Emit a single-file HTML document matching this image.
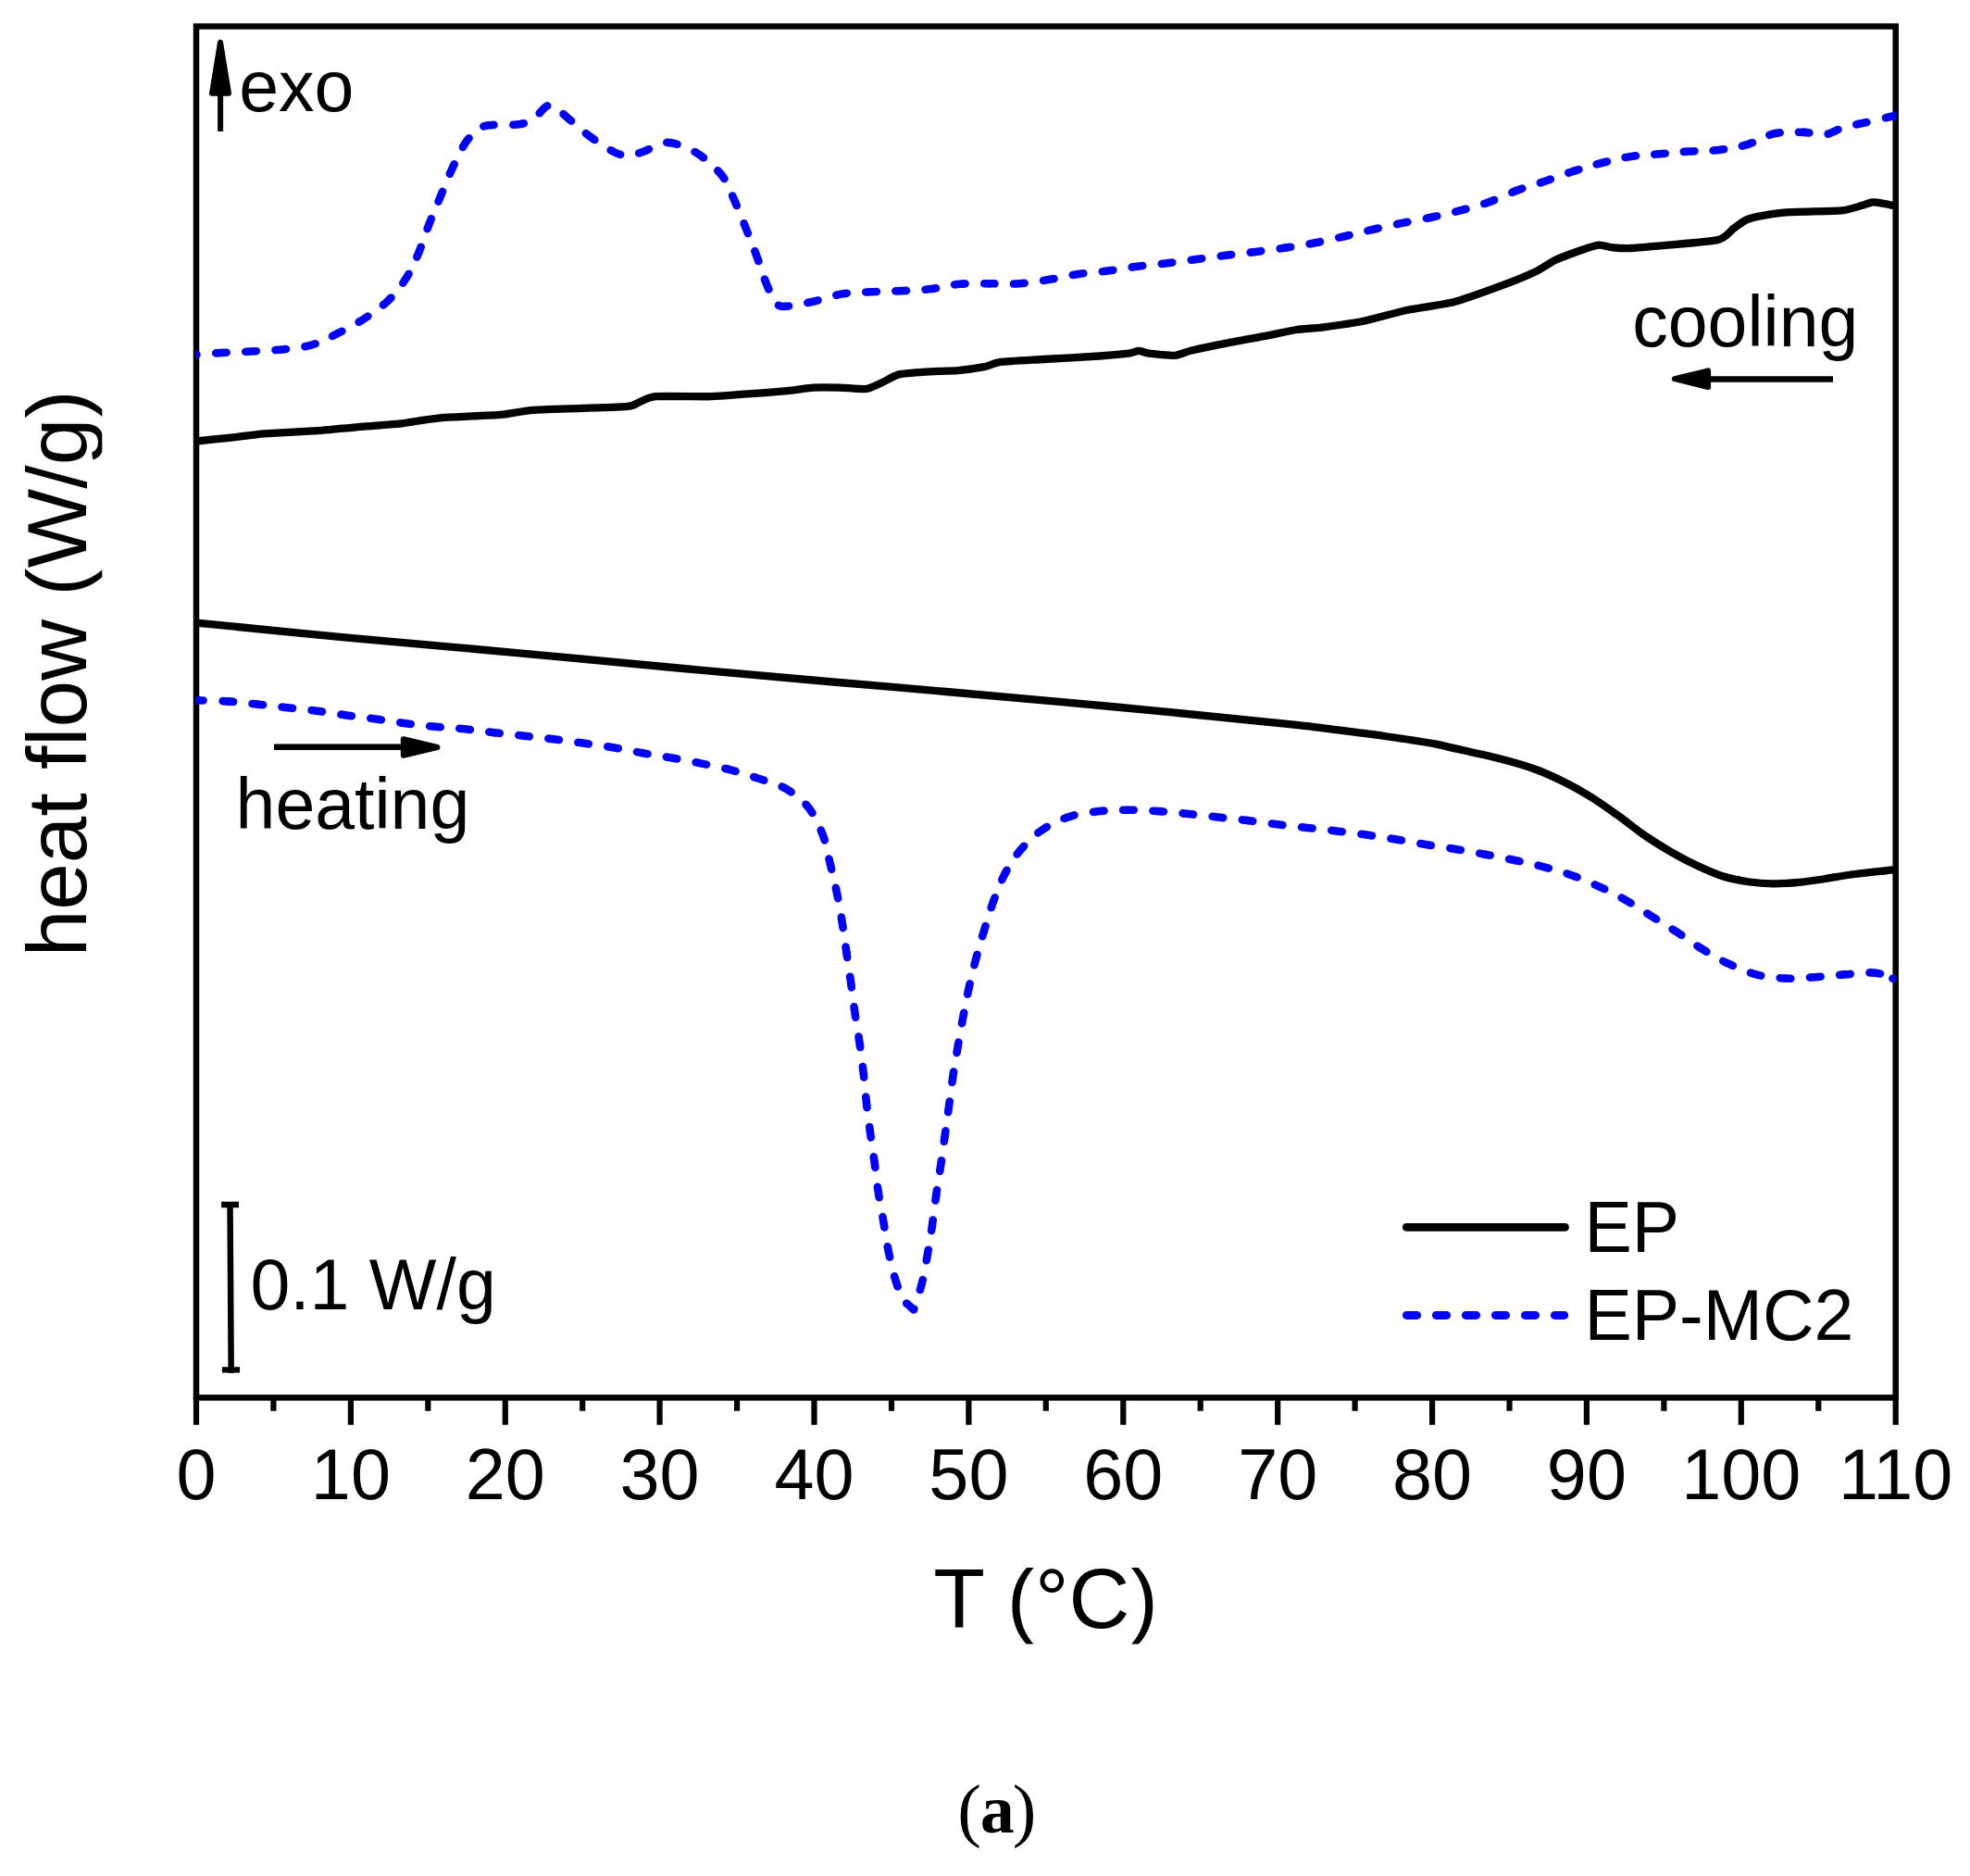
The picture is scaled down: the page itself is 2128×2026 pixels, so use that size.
<!DOCTYPE html>
<html lang="en"><head><meta charset="utf-8"><title>DSC heat flow: EP vs EP-MC2</title>
<style>html,body{margin:0;padding:0;background:#fff}body{width:2128px;height:2026px;overflow:hidden}svg{display:block}text{font-family:'Liberation Sans', Arial, Helvetica, sans-serif;fill:#000}</style>
</head><body>
<svg width="2128" height="2026" viewBox="0 0 2128 2026">
<rect x="0" y="0" width="2128" height="2026" fill="#fff"/>
<defs>
<clipPath id="plot"><rect x="211.0" y="28.5" width="1837.7" height="1480.9"/></clipPath>
<clipPath id="xt"><rect x="900" y="1693" width="460" height="82.5"/></clipPath>
<clipPath id="yt"><rect x="27" y="380" width="83.3" height="700"/></clipPath>
</defs>
<g fill="none" stroke="#000" stroke-width="6.5" stroke-linecap="butt">
<rect x="212.0" y="28.5" width="1835.7" height="1480.9"/>
<path stroke-width="6.2" d="M212.0 1509.4V1538.7M295.4 1509.4V1523.7M378.9 1509.4V1538.7M462.3 1509.4V1523.7M545.8 1509.4V1538.7M629.2 1509.4V1523.7M712.6 1509.4V1538.7M796.1 1509.4V1523.7M879.5 1509.4V1538.7M963.0 1509.4V1523.7M1046.4 1509.4V1538.7M1129.8 1509.4V1523.7M1213.3 1509.4V1538.7M1296.7 1509.4V1523.7M1380.2 1509.4V1538.7M1463.6 1509.4V1523.7M1547.1 1509.4V1538.7M1630.5 1509.4V1523.7M1713.9 1509.4V1538.7M1797.4 1509.4V1523.7M1880.8 1509.4V1538.7M1964.3 1509.4V1523.7M2047.7 1509.4V1538.7"/>
</g>
<g clip-path="url(#plot)" fill="none" stroke-linejoin="round">
<path stroke="#000" stroke-width="8.3" d="M212.0 476.5C215.4 476.1 243.1 473.3 249.8 472.6C256.5 471.9 276.4 469.1 285.3 468.4C294.2 467.7 338.5 465.4 347.5 464.8C356.5 464.2 377.2 461.9 384.8 461.3C392.4 460.7 424.1 458.4 431.0 457.7C437.9 457.0 456.4 453.7 461.2 453.1C466.0 452.5 477.0 451.1 484.3 450.6C491.6 450.1 532.8 448.5 541.2 447.8C549.6 447.1 564.4 443.6 576.7 442.8C589.0 442.0 665.9 440.0 676.2 439.2C686.5 438.4 687.5 435.3 690.4 434.3C693.3 433.3 701.1 428.8 708.2 428.2C715.3 427.6 759.9 428.4 768.6 428.2C777.3 428.0 796.7 426.2 804.1 425.7C811.5 425.2 843.2 422.8 850.0 422.2C856.8 421.6 873.2 418.9 878.4 418.6C883.6 418.3 901.7 418.5 906.9 418.6C912.1 418.7 931.1 420.5 935.3 420.0C939.5 419.5 949.8 414.4 953.0 413.0C956.2 411.6 966.6 405.4 970.8 404.4C975.0 403.4 993.5 402.0 999.3 401.6C1005.1 401.2 1029.0 400.6 1034.8 400.1C1040.6 399.6 1059.0 397.0 1063.2 396.2C1067.4 395.4 1075.2 391.6 1081.0 390.9C1086.8 390.2 1117.5 388.6 1127.2 388.0C1136.9 387.4 1179.2 385.1 1187.6 384.5C1196.0 383.9 1215.7 382.2 1219.6 381.7C1223.5 381.2 1228.3 378.8 1230.2 378.8C1232.1 378.8 1237.3 381.2 1240.9 381.7C1244.5 382.2 1265.1 384.1 1269.3 383.8C1273.5 383.5 1281.6 379.8 1287.1 378.5C1292.6 377.2 1322.6 371.0 1329.7 369.6C1336.8 368.2 1358.8 364.4 1365.3 363.2C1371.8 362.0 1395.1 356.9 1400.8 356.0C1406.5 355.1 1421.3 354.5 1428.0 353.6C1434.7 352.7 1465.8 348.2 1474.2 346.5C1482.6 344.8 1511.7 336.6 1520.4 334.8C1529.1 333.0 1561.1 328.5 1570.2 326.2C1579.3 323.9 1611.9 312.2 1620.0 309.2C1628.1 306.2 1653.5 295.8 1659.0 293.2C1664.5 290.6 1675.8 282.8 1680.3 280.7C1684.8 278.6 1704.4 271.5 1708.7 270.0C1713.0 268.5 1724.3 265.0 1727.2 264.7C1730.1 264.4 1737.5 266.9 1740.7 267.2C1743.9 267.5 1751.7 268.7 1762.0 268.0C1772.3 267.3 1844.4 261.3 1854.4 259.4C1864.4 257.5 1869.3 249.0 1872.2 247.0C1875.1 245.0 1883.5 238.7 1886.4 237.4C1889.3 236.1 1900.0 233.5 1904.2 232.8C1908.4 232.1 1924.8 229.7 1932.6 229.2C1940.4 228.7 1982.4 228.0 1989.5 227.4C1996.6 226.8 2007.9 222.9 2010.8 222.1C2013.7 221.3 2019.6 218.9 2021.5 218.6C2023.4 218.3 2029.7 218.9 2032.1 219.3C2034.5 219.7 2046.3 222.2 2047.7 222.5"/>
<path stroke="#000" stroke-width="8.3" d="M212.0 672.6C239.6 675.3 320.5 683.4 377.7 688.8C434.9 694.2 496.2 699.3 555.4 704.8C614.6 710.2 675.6 716.2 733.0 721.5C790.4 726.8 850.9 732.2 900.0 736.5C949.1 740.8 976.8 743.0 1027.7 747.5C1078.6 752.0 1146.2 757.9 1205.4 763.5C1264.6 769.1 1345.9 777.4 1383.0 781.2C1420.1 785.0 1408.7 783.8 1428.0 786.2C1447.3 788.6 1478.7 792.6 1499.0 795.5C1519.3 798.4 1538.2 801.2 1550.0 803.3C1561.8 805.4 1557.8 805.1 1570.0 807.9C1582.2 810.7 1608.6 816.4 1623.4 820.3C1638.2 824.1 1647.7 826.9 1659.0 831.0C1670.3 835.1 1680.9 840.2 1691.0 845.2C1701.1 850.2 1709.9 855.3 1719.4 861.2C1728.9 867.1 1738.3 873.9 1747.8 880.7C1757.3 887.5 1766.8 895.5 1776.3 902.0C1785.8 908.5 1795.2 914.3 1804.7 919.8C1814.2 925.3 1823.5 930.3 1833.0 934.8C1842.5 939.2 1852.0 943.5 1861.5 946.5C1871.0 949.5 1881.1 951.2 1890.0 952.5C1898.9 953.8 1905.9 954.2 1914.8 954.3C1923.7 954.4 1933.8 953.8 1943.3 952.9C1952.8 952.0 1961.6 950.5 1971.7 949.0C1981.8 947.5 1991.0 945.6 2003.7 944.0C2016.4 942.4 2040.4 940.0 2047.7 939.2"/>
<path stroke="#00f" stroke-width="8.6" stroke-linecap="round" stroke-dasharray="11.60 20.70" stroke-dashoffset="11.03" d="M212.0 383.0C216.5 382.7 229.2 381.6 239.0 381.0"/>
<path stroke="#00f" stroke-width="8.6" stroke-linecap="round" stroke-dasharray="11.60 20.52" stroke-dashoffset="5.80" d="M239.0 381.0C248.8 380.4 260.0 380.1 271.0 379.5C282.0 378.9 294.0 378.6 305.0 377.4C316.0 376.2 327.2 375.2 337.0 372.4C346.8 369.6 354.1 365.4 363.5 360.7C372.9 356.0 384.3 350.1 393.7 344.0C403.1 337.9 412.5 331.3 420.0 324.0C427.5 316.7 433.5 308.7 438.8 300.3C444.1 291.9 447.9 283.4 452.0 273.6C456.1 263.8 459.8 251.7 463.7 241.6C467.6 231.5 471.3 223.1 475.4 213.2C479.5 203.3 483.8 192.1 488.5 182.0C493.2 171.9 498.6 160.2 503.8 152.8C509.0 145.5 515.1 140.9 519.8 137.9C524.5 134.9 525.2 135.6 532.0 135.0C538.8 134.4 553.2 135.5 560.7 134.3C568.2 133.1 571.7 131.3 576.7 128.0C581.8 124.7 586.9 116.2 591.0 114.4C595.1 112.6 597.8 115.0 601.6 117.3C605.4 119.6 608.4 123.3 614.0 128.0C619.6 132.7 627.0 139.8 635.0 145.7C643.0 151.6 654.8 159.8 662.0 163.5C669.2 167.2 672.4 167.7 678.0 167.7C683.6 167.7 689.5 165.7 695.7 163.5C701.9 161.3 709.4 155.9 715.3 154.6C721.2 153.3 724.8 153.8 731.3 155.7C737.8 157.6 747.6 162.1 754.4 166.3C761.2 170.6 767.4 176.6 772.1 181.2C776.8 185.8 779.2 187.8 782.8 193.7C786.4 199.6 789.6 207.9 793.5 216.8C797.4 225.7 801.8 236.6 805.9 247.0C810.0 257.4 814.4 268.6 818.3 279.0C822.1 289.4 825.4 300.9 829.0 309.2C832.6 317.5 835.9 325.1 839.7 328.7C843.5 332.2 845.2 331.1 852.0 330.5C858.8 329.9 870.5 327.4 880.2 325.2C889.9 323.0 900.0 319.0 910.4 317.3C920.8 315.6 931.7 315.7 942.4 315.2C953.1 314.7 963.7 314.6 974.4 314.1C985.1 313.6 996.0 313.2 1006.4 312.0C1016.8 310.8 1026.2 307.6 1036.6 306.7C1047.0 305.8 1057.9 306.4 1068.6 306.3"/>
<path stroke="#00f" stroke-width="8.6" stroke-linecap="round" stroke-dasharray="11.60 20.65" stroke-dashoffset="5.80" d="M1068.6 306.3C1079.2 306.2 1089.8 307.0 1100.5 306.3C1111.2 305.6 1121.8 303.8 1132.5 302.1C1143.2 300.4 1153.8 297.6 1164.5 296.0C1175.2 294.4 1185.8 293.9 1196.5 292.5C1207.2 291.1 1217.8 289.2 1228.5 287.8C1239.2 286.4 1249.8 285.6 1260.4 284.3C1271.1 283.0 1281.7 281.4 1292.4 280.0C1303.1 278.6 1313.7 277.2 1324.4 275.8C1335.1 274.4 1345.7 273.3 1356.4 271.9C1367.1 270.5 1377.7 269.2 1388.4 267.6"/>
<path stroke="#00f" stroke-width="8.6" stroke-linecap="round" stroke-dasharray="11.60 20.70" stroke-dashoffset="5.80" d="M1388.4 267.6C1399.1 266.0 1409.8 264.4 1420.4 262.3C1431.1 260.2 1442.0 257.6 1452.3 255.2C1462.6 252.8 1472.1 250.4 1482.5 248.0C1492.9 245.6 1503.8 243.2 1514.5 240.9C1525.2 238.7 1536.6 236.8 1547.0 234.5C1557.4 232.2 1566.9 230.1 1577.0 227.4C1587.1 224.8 1597.1 222.3 1607.5 218.6C1617.9 214.9 1629.1 209.2 1639.4 205.4C1649.8 201.6 1659.5 198.9 1669.6 195.5C1679.7 192.1 1689.7 188.1 1699.8 184.8"/>
<path stroke="#00f" stroke-width="8.6" stroke-linecap="round" stroke-dasharray="11.60 20.17" stroke-dashoffset="5.80" d="M1699.8 184.8C1709.9 181.6 1719.9 178.6 1730.0 176.0C1740.1 173.4 1749.9 170.8 1760.3 169.2C1770.7 167.6 1781.6 167.2 1792.3 166.3C1803.0 165.4 1813.5 164.2 1824.2 163.5C1834.9 162.8 1845.8 163.2 1856.2 162.0C1866.6 160.8 1876.3 159.3 1886.4 156.4C1896.5 153.5 1906.2 146.6 1916.6 144.3C1927.0 142.1 1939.7 142.7 1948.6 142.9"/>
<path stroke="#00f" stroke-width="8.6" stroke-linecap="round" stroke-dasharray="11.60 20.70" stroke-dashoffset="5.80" d="M1948.6 142.9C1957.5 143.1 1962.6 146.7 1970.0 145.7C1977.4 144.7 1986.2 138.9 1993.0 136.8C1999.8 134.7 2001.7 135.3 2010.8 133.3C2019.9 131.3 2041.5 126.2 2047.7 124.8"/>
<path stroke="#00f" stroke-width="8.6" stroke-linecap="round" stroke-dasharray="11.60 20.70" stroke-dashoffset="3.88" d="M212.0 756.3C217.7 756.5 235.2 756.7 246.2 757.4"/>
<path stroke="#00f" stroke-width="8.6" stroke-linecap="round" stroke-dasharray="11.60 20.61" stroke-dashoffset="5.80" d="M246.2 757.4C257.2 758.1 267.5 759.5 278.2 760.6C288.9 761.7 299.5 763.0 310.2 764.2C320.9 765.4 331.5 766.3 342.1 767.7C352.8 769.1 363.4 770.9 374.1 772.4C384.8 773.9 395.4 775.1 406.1 776.6C416.8 778.1 427.5 779.8 438.1 781.2C448.8 782.6 459.4 783.8 470.0 784.8C480.6 785.8 491.3 786.2 502.0 787.3C512.7 788.4 523.3 790.0 534.0 791.2"/>
<path stroke="#00f" stroke-width="8.6" stroke-linecap="round" stroke-dasharray="11.60 20.67" stroke-dashoffset="5.80" d="M534.0 791.2C544.7 792.4 555.3 793.5 566.0 794.7C576.7 795.9 587.3 797.0 598.0 798.3C608.7 799.6 619.3 801.1 630.0 802.6C640.7 804.1 651.3 805.4 662.0 807.2C672.7 809.0 683.3 811.3 694.0 813.2C704.7 815.1 715.3 816.7 726.0 818.6C736.7 820.5 747.3 822.4 758.0 824.6C768.7 826.8 779.7 829.0 790.0 831.7C800.3 834.4 810.2 837.7 820.0 841.0C829.8 844.3 839.6 846.5 848.5 851.6C857.4 856.8 866.5 863.5 873.2 871.9C879.9 880.3 884.9 891.6 888.9 902.0C892.9 912.4 894.5 923.6 897.0 934.0C899.5 944.4 901.9 953.9 904.0 964.3C906.1 974.7 908.0 985.6 909.7 996.2C911.4 1006.9 912.8 1017.5 914.3 1028.2"/>
<path stroke="#00f" stroke-width="8.6" stroke-linecap="round" stroke-dasharray="11.60 21.11" stroke-dashoffset="5.80" d="M914.3 1028.2C915.8 1038.9 917.5 1049.5 919.0 1060.2C920.5 1070.9 921.7 1081.5 923.2 1092.2C924.7 1102.9 926.7 1113.5 928.2 1124.2C929.7 1134.9 931.1 1145.3 932.4 1156.2C933.7 1167.1 934.6 1178.8 935.8 1189.7C937.0 1200.6 938.4 1211.0 939.8 1221.6C941.2 1232.2 942.9 1242.8 944.4 1253.5C945.9 1264.2 946.9 1274.9 948.5 1285.6C950.1 1296.3 952.3 1307.3 954.1 1317.9C955.9 1328.5 957.2 1338.6 959.3 1349.1C961.4 1359.6 964.2 1372.0 966.9 1381.0C969.6 1390.0 973.1 1398.8 975.5 1403.4C977.9 1408.0 979.1 1407.0 981.0 1408.8C982.9 1410.6 986.0 1413.5 987.0 1414.5C988.4 1409.9 993.1 1396.7 995.6 1386.8C998.1 1376.9 1000.0 1365.5 1001.9 1354.9C1003.8 1344.3 1005.5 1333.7 1007.0 1323.0C1008.5 1312.3 1009.7 1301.6 1011.2 1290.9"/>
<path stroke="#00f" stroke-width="8.6" stroke-linecap="round" stroke-dasharray="11.60 20.65" stroke-dashoffset="5.80" d="M1011.2 1290.9C1012.7 1280.2 1014.5 1269.7 1016.1 1259.0C1017.7 1248.3 1019.1 1237.5 1020.6 1226.8C1022.1 1216.1 1023.5 1205.9 1025.0 1195.0C1026.5 1184.1 1027.9 1172.4 1029.5 1161.5C1031.1 1150.6 1033.0 1140.2 1034.8 1129.5C1036.6 1118.8 1038.5 1107.9 1040.5 1097.5C1042.5 1087.1 1044.2 1077.7 1046.5 1067.3C1048.8 1056.9 1051.5 1045.8 1054.3 1035.3C1057.1 1024.8 1060.0 1014.8 1063.2 1004.4C1066.4 994.0 1069.5 983.2 1073.2 973.1C1076.9 963.0 1080.5 953.2 1085.3 944.0C1090.1 934.8 1095.4 926.0 1102.3 918.0"/>
<path stroke="#00f" stroke-width="8.6" stroke-linecap="round" stroke-dasharray="11.60 20.70" stroke-dashoffset="5.80" d="M1102.3 918.0C1109.2 910.0 1117.6 901.7 1126.5 895.7C1135.4 889.7 1145.4 885.1 1155.6 881.8C1165.8 878.5 1176.9 877.3 1187.6 876.1C1198.3 874.9 1208.9 874.7 1219.6 874.7C1230.3 874.7 1240.9 875.4 1251.6 876.1C1262.2 876.8 1272.8 877.9 1283.5 879.0C1294.2 880.1 1304.8 881.3 1315.5 882.5C1326.2 883.7 1336.8 884.8 1347.5 886.1"/>
<path stroke="#00f" stroke-width="8.6" stroke-linecap="round" stroke-dasharray="11.60 20.80" stroke-dashoffset="5.80" d="M1347.5 886.1C1358.2 887.4 1368.8 889.0 1379.5 890.3C1390.2 891.6 1400.8 892.7 1411.5 893.9C1422.2 895.1 1432.8 896.1 1443.5 897.4C1454.2 898.7 1465.2 900.1 1476.0 901.6C1486.8 903.1 1497.3 904.8 1508.0 906.5C1518.7 908.2 1529.3 910.2 1540.0 912.0C1550.7 913.8 1561.3 915.2 1572.0 917.0C1582.7 918.8 1593.3 920.7 1604.0 922.7"/>
<path stroke="#00f" stroke-width="8.6" stroke-linecap="round" stroke-dasharray="11.60 20.71" stroke-dashoffset="5.80" d="M1604.0 922.7C1614.7 924.7 1625.7 926.8 1636.0 929.0C1646.3 931.2 1656.0 933.2 1666.0 935.8C1676.0 938.4 1686.2 941.2 1696.3 944.7C1706.4 948.2 1716.7 952.7 1726.5 957.1C1736.3 961.5 1745.5 966.1 1755.0 971.4C1764.5 976.7 1774.1 983.3 1783.4 989.1C1792.7 994.9 1801.5 1000.3 1810.7 1006.2C1819.9 1012.1 1829.0 1019.0 1838.4 1024.7"/>
<path stroke="#00f" stroke-width="8.6" stroke-linecap="round" stroke-dasharray="11.60 20.70" stroke-dashoffset="5.80" d="M1838.4 1024.7C1847.8 1030.5 1857.1 1036.1 1866.9 1040.7C1876.7 1045.3 1886.8 1049.8 1897.0 1052.4C1907.2 1055.1 1917.7 1056.1 1928.4 1056.6C1939.1 1057.1 1950.2 1055.9 1961.0 1055.2C1971.8 1054.5 1982.3 1053.2 1993.0 1052.4C2003.7 1051.6 2015.9 1049.8 2025.0 1050.6C2034.1 1051.4 2043.9 1056.3 2047.7 1057.5"/>
<circle cx="2044.4" cy="1056.8" r="4.3" fill="#00f"/>
</g>
<path d="M238.1 141.9V95" stroke="#000" stroke-width="6" fill="none"/>
<path d="M238 45.8L247 100.8H229Z" fill="#000" stroke="#000" stroke-width="6" stroke-linejoin="round"/>
<text x="258.3" y="120" font-size="77">exo</text>
<text x="1763.3" y="373.8" font-size="77">cooling</text>
<path d="M1980 409.4H1840" stroke="#000" stroke-width="6.5" fill="none"/>
<path d="M1808.9 409.2L1845.1 400.4V418Z" fill="#000" stroke="#000" stroke-width="6" stroke-linejoin="round"/>
<path d="M296 806.8H440" stroke="#000" stroke-width="6.5" fill="none"/>
<path d="M472.4 807L435.8 798.2V815.8Z" fill="#000" stroke="#000" stroke-width="6" stroke-linejoin="round"/>
<text x="254.6" y="894.5" font-size="77">heating</text>
<path d="M248.5 1298L249.7 1482.7" stroke="#000" stroke-width="6.5" fill="none"/>
<path d="M239.1 1301H258M239.9 1479.4H259.1" stroke="#000" stroke-width="6.3" fill="none"/>
<text x="270.4" y="1414" font-size="77">0.1 W/g</text>
<path d="M1519.3 1325.4H1690.5" stroke="#000" stroke-width="8.8" stroke-linecap="round" fill="none"/>
<path d="M1519.4 1420.4H1689.7" stroke="#00f" stroke-width="9" stroke-linecap="round" stroke-dasharray="11.2 20.8" fill="none"/>
<text x="1711.4" y="1352.1" font-size="77">EP</text>
<text x="1711.4" y="1447" font-size="77">EP-MC2</text>
<g font-size="77.4" text-anchor="middle">
<text x="212.0" y="1619">0</text>
<text x="378.9" y="1619">10</text>
<text x="545.8" y="1619">20</text>
<text x="712.6" y="1619">30</text>
<text x="879.5" y="1619">40</text>
<text x="1046.4" y="1619">50</text>
<text x="1213.3" y="1619">60</text>
<text x="1380.2" y="1619">70</text>
<text x="1547.1" y="1619">80</text>
<text x="1713.9" y="1619">90</text>
<text x="1880.8" y="1619">100</text>
<text x="2047.7" y="1619">110</text>
</g>
<g clip-path="url(#xt)"><text x="1129.6" y="1757.9" font-size="91.3" text-anchor="middle">T (°C)</text></g>
<g clip-path="url(#yt)"><text transform="translate(92.6 727.4) rotate(-90)" font-size="91" text-anchor="middle">heat flow (W/g)</text></g>
<text y="1979.7" font-size="77" style="font-family:'Liberation Serif', 'Times New Roman', serif"><tspan x="1034.3">(</tspan><tspan x="1058.7" y="1979.3" font-weight="bold" font-size="74">a</tspan><tspan x="1093.8" y="1979.7">)</tspan></text>
</svg>
</body></html>
